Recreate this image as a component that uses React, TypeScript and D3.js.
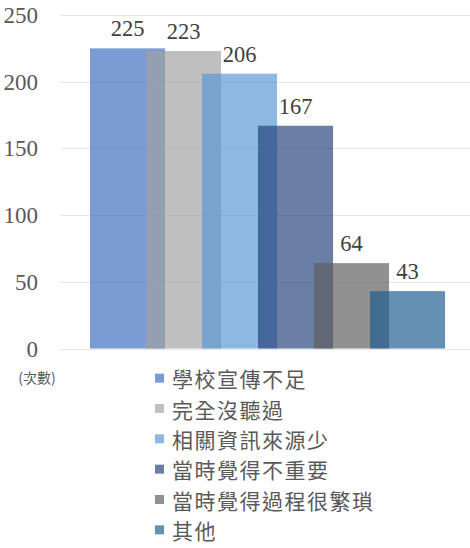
import React from "react";
import * as d3 from "d3";

const categories = ["學校宣傳不足", "完全沒聽過", "相關資訊來源少", "當時覺得不重要", "當時覺得過程很繁瑣", "其他"];
const values = [225, 223, 206, 167, 64, 43];
const colors = ["#3b6cbe", "#a1a1a1", "#5797d4", "#24417c", "#5d5d5d", "#1e5a91"];
const yTicks = [0, 50, 100, 150, 200, 250];
const unitLabel = "(次數)";

const W = 470;
const H = 548;

export default function App() {
  const y = d3.scaleLinear().domain([0, 250]).range([348.5, 15]);
  const x = d3.scaleBand<string>().domain(categories).range([90, 426]).padding(0);
  const barW = x.bandwidth() * 1.34;
  const opacity = 0.68;
  const legendY = d3.scaleBand<string>().domain(categories).range([363, 545]);

  return (
    <svg width={W} height={H} style={{ position: "absolute", left: 0, top: 0, background: "#fff" }}>
      <g>
        {yTicks.map((t) => (
          <g key={t}>
            <line x1={60} x2={470} y1={Math.round(y(t)) + 0.5} y2={Math.round(y(t)) + 0.5} stroke="#e6e6e6" strokeWidth={1} />
            <text
              x={38}
              y={y(t) + 8}
              textAnchor="end"
              fontFamily="'Liberation Serif', 'Times New Roman', serif"
              fontSize={23}
              fill="#595959"
            >
              {t}
            </text>
          </g>
        ))}
      </g>
      <g>
        {categories.map((c, i) => (
          <rect
            key={c}
            x={x(c)!}
            y={y(values[i])}
            width={barW}
            height={y(0) - y(values[i])}
            fill={colors[i]}
            fillOpacity={opacity}
          />
        ))}
      </g>
      <g>
        {categories.map((c, i) => (
          <text
            key={c}
            x={x(c)! + barW / 2}
            y={y(values[i]) - 12}
            textAnchor="middle"
            fontFamily="'Liberation Serif', 'Times New Roman', serif"
            fontSize={22.5}
            fill="#404040"
          >
            {values[i]}
          </text>
        ))}
      </g>
      <text x={37} y={383} textAnchor="middle" fontFamily="'Noto Sans CJK TC', sans-serif" fontSize={14} fill="#595959">
        {unitLabel}
      </text>
      <g>
        {categories.map((c, i) => {
          const cy = legendY(c)! + legendY.bandwidth() / 2;
          return (
            <g key={c}>
              <rect x={155} y={cy - 4.5} width={9} height={9} fill={colors[i]} fillOpacity={opacity} />
              <text
                x={172}
                y={cy}
                dominantBaseline="central"
                fontFamily="'Noto Sans CJK TC', sans-serif"
                fontSize={21}
                letterSpacing={1.5}
                fill="#595959"
              >
                {c}
              </text>
            </g>
          );
        })}
      </g>
    </svg>
  );
}
